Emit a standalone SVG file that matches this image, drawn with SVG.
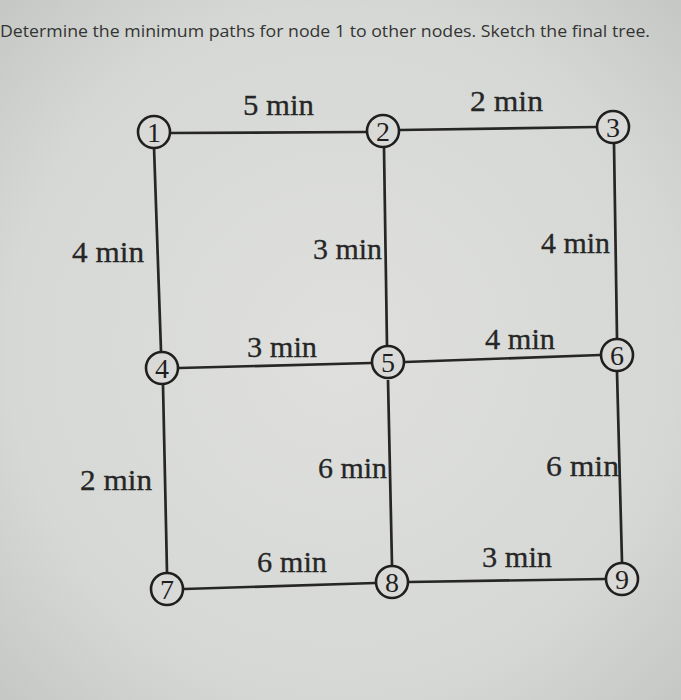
<svg xmlns="http://www.w3.org/2000/svg" width="681" height="700" viewBox="0 0 681 700">
<defs>
<radialGradient id="bg" cx="0.5" cy="0.5" r="0.75">
<stop offset="0" stop-color="#dfe0de"/>
<stop offset="0.65" stop-color="#d6d8d5"/>
<stop offset="1" stop-color="#c2c4c1"/>
</radialGradient>
<style>
.title{font-family:"Open Sans","Liberation Sans",sans-serif;font-size:16px;fill:#333433}
.lbl{font-family:"Liberation Serif","Times New Roman",serif;font-size:30px;fill:#262626;stroke:#262626;stroke-width:0.3}
.edge{stroke:#262626;stroke-width:2.7;fill:none}
.node circle{fill:#d9dad7;stroke:#1f1f1f;stroke-width:2.6}
.node text{font-family:"Liberation Serif","Times New Roman",serif;font-size:28px;fill:#1f1f1f;text-anchor:middle}
</style>
</defs>
<rect width="681" height="700" fill="url(#bg)"/>
<text class="title" x="0" y="37" textLength="650" lengthAdjust="spacingAndGlyphs">Determine the minimum paths for node 1 to other nodes. Sketch the final tree.</text>
<g id="connectors">
<line class="edge" x1="170" y1="133" x2="366" y2="132"/>
<line class="edge" x1="400" y1="130" x2="596" y2="127"/>
<line class="edge" x1="154" y1="147" x2="161" y2="351"/>
<line class="edge" x1="384" y1="148" x2="387" y2="346"/>
<line class="edge" x1="614" y1="144" x2="617" y2="338"/>
<line class="edge" x1="179" y1="368" x2="371" y2="363"/>
<line class="edge" x1="405" y1="362" x2="600" y2="355"/>
<line class="edge" x1="163" y1="385" x2="167" y2="572"/>
<line class="edge" x1="388" y1="380" x2="392" y2="565"/>
<line class="edge" x1="617" y1="372" x2="622" y2="562"/>
<line class="edge" x1="184" y1="589" x2="375" y2="583"/>
<line class="edge" x1="409" y1="582" x2="605" y2="579"/>
</g>
<g id="labels">
<text class="lbl" x="243" y="115" textLength="71" lengthAdjust="spacingAndGlyphs">5 min</text>
<text class="lbl" x="470" y="111" textLength="73" lengthAdjust="spacingAndGlyphs">2 min</text>
<text class="lbl" x="72" y="262" textLength="72" lengthAdjust="spacingAndGlyphs">4 min</text>
<text class="lbl" x="313" y="259" textLength="69" lengthAdjust="spacingAndGlyphs">3 min</text>
<text class="lbl" x="541" y="253" textLength="69" lengthAdjust="spacingAndGlyphs">4 min</text>
<text class="lbl" x="247" y="357" textLength="70" lengthAdjust="spacingAndGlyphs">3 min</text>
<text class="lbl" x="485" y="349" textLength="70" lengthAdjust="spacingAndGlyphs">4 min</text>
<text class="lbl" x="80" y="490" textLength="72" lengthAdjust="spacingAndGlyphs">2 min</text>
<text class="lbl" x="318" y="478" textLength="69" lengthAdjust="spacingAndGlyphs">6 min</text>
<text class="lbl" x="546" y="476" textLength="73" lengthAdjust="spacingAndGlyphs">6 min</text>
<text class="lbl" x="257" y="572" textLength="70" lengthAdjust="spacingAndGlyphs">6 min</text>
<text class="lbl" x="482" y="567" textLength="70" lengthAdjust="spacingAndGlyphs">3 min</text>
</g>
<g id="node1" class="node"><circle cx="154" cy="132" r="16"/><text x="154" y="142">1</text></g>
<g id="node2" class="node"><circle cx="383" cy="131" r="16"/><text x="383" y="141">2</text></g>
<g id="node3" class="node"><circle cx="613" cy="127" r="16"/><text x="613" y="137">3</text></g>
<g id="node4" class="node"><circle cx="162" cy="368" r="16"/><text x="162" y="378">4</text></g>
<g id="node5" class="node"><circle cx="388" cy="362" r="16"/><text x="388" y="372">5</text></g>
<g id="node6" class="node"><circle cx="617" cy="355" r="16"/><text x="617" y="365">6</text></g>
<g id="node7" class="node"><circle cx="167" cy="589" r="16"/><text x="167" y="599">7</text></g>
<g id="node8" class="node"><circle cx="392" cy="582" r="16"/><text x="392" y="592">8</text></g>
<g id="node9" class="node"><circle cx="622" cy="579" r="16"/><text x="622" y="589">9</text></g>
</svg>
